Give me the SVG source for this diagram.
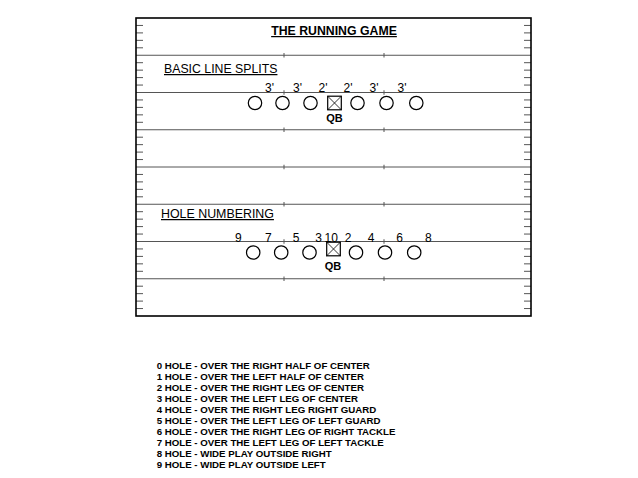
<svg xmlns="http://www.w3.org/2000/svg" width="638" height="478" viewBox="0 0 638 478">
<style>
.yl{stroke:#555;stroke-width:1;fill:none}
.hm{stroke:#555;stroke-width:1}
.pl{fill:#fff;stroke:#000;stroke-width:1.2}
.t{font-family:"Liberation Sans",Arial,sans-serif;fill:#000}
.lb{font-size:12px}
.qb{font-size:11px;font-weight:bold}
.li{font-size:9.7px;font-weight:bold}
</style>
<defs>
<g id="hashes">
<line class="hm" x1="136" y1="0" x2="143" y2="0"/>
<line class="hm" x1="524" y1="0" x2="531" y2="0"/>
</g>
<g id="ctr">
<rect class="pl" x="-6.8" y="-6.8" width="13.6" height="13.6"/>
<path d="M-6.8-6.8L6.8 6.8M6.8-6.8L-6.8 6.8" stroke="#000" stroke-width="0.8"/>
</g>
</defs>
<rect width="638" height="478" fill="#fff"/>
<g id="field">
<g class="yl">
<line x1="136" y1="55.25" x2="531" y2="55.25"/>
<line x1="136" y1="92.5" x2="531" y2="92.5"/>
<line x1="136" y1="129.75" x2="531" y2="129.75"/>
<line x1="136" y1="167" x2="531" y2="167"/>
<line x1="136" y1="204.25" x2="531" y2="204.25"/>
<line x1="136" y1="241.5" x2="531" y2="241.5"/>
<line x1="136" y1="278.75" x2="531" y2="278.75"/>
</g>
<g id="sidehashes">
<use href="#hashes" y="25.45"/><use href="#hashes" y="32.9"/><use href="#hashes" y="40.35"/><use href="#hashes" y="47.8"/>
<use href="#hashes" y="62.7"/><use href="#hashes" y="70.15"/><use href="#hashes" y="77.6"/><use href="#hashes" y="85.05"/>
<use href="#hashes" y="99.95"/><use href="#hashes" y="107.4"/><use href="#hashes" y="114.85"/><use href="#hashes" y="122.3"/>
<use href="#hashes" y="137.2"/><use href="#hashes" y="144.65"/><use href="#hashes" y="152.1"/><use href="#hashes" y="159.55"/>
<use href="#hashes" y="174.45"/><use href="#hashes" y="181.9"/><use href="#hashes" y="189.35"/><use href="#hashes" y="196.8"/>
<use href="#hashes" y="211.7"/><use href="#hashes" y="219.15"/><use href="#hashes" y="226.6"/><use href="#hashes" y="234.05"/>
<use href="#hashes" y="248.95"/><use href="#hashes" y="256.4"/><use href="#hashes" y="263.85"/><use href="#hashes" y="271.3"/>
<use href="#hashes" y="286.2"/><use href="#hashes" y="293.65"/><use href="#hashes" y="301.1"/><use href="#hashes" y="308.55"/>
</g>
<g id="innerhashes" class="hm">
<path d="M284 53v4.5M384 53v4.5M284 90.25v4.5M384 90.25v4.5M284 127.5v4.5M384 127.5v4.5M284 164.75v4.5M384 164.75v4.5M284 202v4.5M384 202v4.5M284 239.25v4.5M384 239.25v4.5M284 276.5v4.5M384 276.5v4.5"/>
</g>
<rect x="136" y="18" width="395" height="298" fill="none" stroke="#000" stroke-width="1.6"/>
</g>
<text class="t" x="334" y="35" font-size="12.3" font-weight="bold" text-anchor="middle" text-decoration="underline">THE RUNNING GAME</text>
<text class="t" x="164" y="73" font-size="12.3" text-decoration="underline">BASIC LINE SPLITS</text>
<g class="t lb" text-anchor="middle">
<text x="269.5" y="92">3'</text>
<text x="297.5" y="92">3'</text>
<text x="323" y="92">2'</text>
<text x="348" y="92">2'</text>
<text x="374" y="92">3'</text>
<text x="402" y="92">3'</text>
</g>
<g id="formation1">
<g id="f1-lt"><circle class="pl" cx="255" cy="103" r="6.7"/></g>
<g id="f1-lg"><circle class="pl" cx="282.5" cy="103" r="6.7"/></g>
<g id="f1-lc"><circle class="pl" cx="310.5" cy="103" r="6.7"/></g>
<g id="f1-c"><use href="#ctr" x="334.5" y="103"/></g>
<g id="f1-rg"><circle class="pl" cx="357.5" cy="103" r="6.7"/></g>
<g id="f1-rt"><circle class="pl" cx="386.5" cy="103" r="6.7"/></g>
<g id="f1-te"><circle class="pl" cx="416.3" cy="103" r="6.7"/></g>
<g id="f1-qb"><text class="t qb" x="334.5" y="122" text-anchor="middle">QB</text></g>
</g>
<text class="t" x="161" y="218" font-size="12.4" text-decoration="underline">HOLE NUMBERING</text>
<g class="t lb" text-anchor="middle">
<text x="238.3" y="241.5">9</text>
<text x="268.3" y="241.5">7</text>
<text x="296" y="241.5">5</text>
<text x="318.7" y="241.5">3</text>
<text x="331.3" y="241.5">10</text>
<text x="348" y="241.5">2</text>
<text x="371.2" y="241.5">4</text>
<text x="399.7" y="241.5">6</text>
<text x="428.3" y="241.5">8</text>
</g>
<g id="formation2">
<g id="f2-lt"><circle class="pl" cx="253.2" cy="252.5" r="6.7"/></g>
<g id="f2-lg"><circle class="pl" cx="281.2" cy="252.5" r="6.7"/></g>
<g id="f2-lc"><circle class="pl" cx="309.5" cy="252.5" r="6.7"/></g>
<g id="f2-c"><use href="#ctr" x="333.5" y="249"/></g>
<g id="f2-rg"><circle class="pl" cx="356" cy="252.5" r="6.7"/></g>
<g id="f2-rt"><circle class="pl" cx="385" cy="252.5" r="6.7"/></g>
<g id="f2-te"><circle class="pl" cx="414.2" cy="252.5" r="6.7"/></g>
<g id="f2-qb"><text class="t qb" x="333" y="270" text-anchor="middle">QB</text></g>
</g>
<g id="connectors"/>
<g id="legend" class="t li">
<text x="156.7" y="368.5">0 HOLE - OVER THE RIGHT HALF OF CENTER</text>
<text x="156.7" y="379.6">1 HOLE - OVER THE LEFT HALF OF CENTER</text>
<text x="156.7" y="390.7">2 HOLE - OVER THE RIGHT LEG OF CENTER</text>
<text x="156.7" y="401.8">3 HOLE - OVER THE LEFT LEG OF CENTER</text>
<text x="156.7" y="412.9">4 HOLE - OVER THE RIGHT LEG RIGHT GUARD</text>
<text x="156.7" y="424">5 HOLE - OVER THE LEFT LEG OF LEFT GUARD</text>
<text x="156.7" y="435.1">6 HOLE - OVER THE RIGHT LEG OF RIGHT TACKLE</text>
<text x="156.7" y="446.2">7 HOLE - OVER THE LEFT LEG OF LEFT TACKLE</text>
<text x="156.7" y="457.3">8 HOLE - WIDE PLAY OUTSIDE RIGHT</text>
<text x="156.7" y="468.4">9 HOLE - WIDE PLAY OUTSIDE LEFT</text>
</g>
</svg>
